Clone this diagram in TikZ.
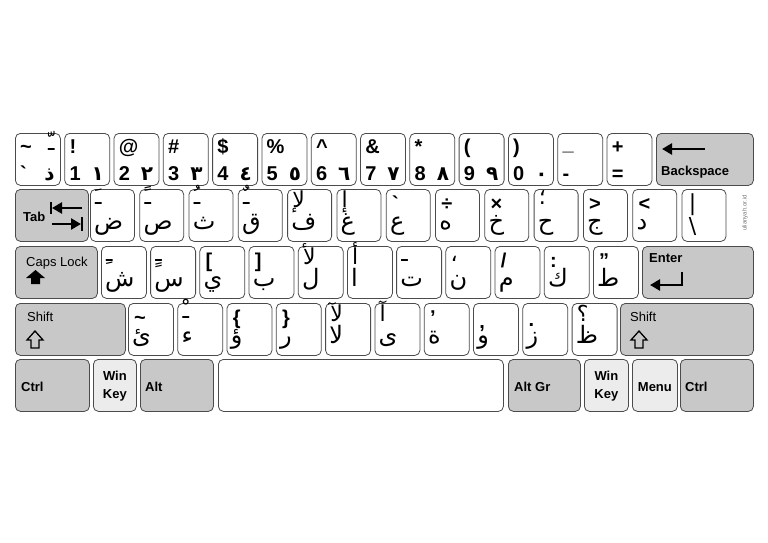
\documentclass[tikz,border=0pt]{standalone}
\usepackage{fontspec}
\setmainfont{Liberation Sans}
\newfontfamily\arabicfont[Script=Arabic]{DejaVu Sans}
\TeXXeTstate=1
\usetikzlibrary{arrows.meta}
\definecolor{keygrey}{RGB}{200,200,200}
\definecolor{keylight}{RGB}{236,236,236}
\definecolor{keyline}{RGB}{75,75,75}

\begin{document}
\begin{tikzpicture}[x=1pt, y=-1pt]
\tikzset{
	key/.style={rectangle, draw=keyline, line width=0.8pt, rounded corners=5pt, fill=white, minimum width=45pt, minimum height=52pt, anchor=north west, inner sep=0pt},
	modkey/.style={key, fill=keygrey},
	lightkey/.style={key, fill=keylight},
	sym/.style={font=\bfseries\fontsize{20}{20}\selectfont, inner sep=0pt},
	up/.style={sym, anchor=base west, xshift=5pt, yshift=-20pt},
	lo/.style={sym, anchor=base west, xshift=5pt, yshift=-47pt},
	shifted/.style={sym, anchor=base west, xshift=6pt, yshift=-21pt},
	ar/.style={font=\arabicfont\fontsize{22}{22}\selectfont, inner sep=0pt},
	num/.style={ar, font=\arabicfont\bfseries\fontsize{20}{20}\selectfont, anchor=base east, xshift=-6pt, yshift=-47pt},
	harf/.style={ar, font=\arabicfont\fontsize{24}{24}\selectfont, anchor=base west, xshift=4pt, yshift=-40pt},
	haraka/.style={ar, anchor=base west, xshift=5pt, yshift=-15pt},
	modtxt/.style={font=\bfseries\fontsize{13}{13}\selectfont, anchor=base west, inner sep=0pt},
	plaintxt/.style={font=\fontsize{13}{13}\selectfont, anchor=base west, inner sep=0pt},
	icon/.style={line width=2.6pt, -{Triangle[length=10pt,width=11pt]}},
}
\useasboundingbox (0,0) rectangle (768,543);

% row 1
\node[key] (kgrave) at (15,133) {};
\node[key] (k1) at (64.3,133) {};
\node[key] (k2) at (113.6,133) {};
\node[key] (k3) at (162.9,133) {};
\node[key] (k4) at (212.2,133) {};
\node[key] (k5) at (261.5,133) {};
\node[key] (k6) at (310.8,133) {};
\node[key] (k7) at (360.1,133) {};
\node[key] (k8) at (409.4,133) {};
\node[key] (k9) at (458.7,133) {};
\node[key] (k0) at (508,133) {};
\node[key] (kminus) at (557.3,133) {};
\node[key] (kequal) at (606.6,133) {};
\node[modkey, minimum width=97pt] (bksp) at (656,133) {};

\node[up] (kgrave-u) at (kgrave.north west) {\textasciitilde};
\node[lo] (kgrave-l) at (kgrave.north west) {\textasciigrave};
\node[ar, anchor=base east] (kgrave-s) at ([shift={(-6,17)}]kgrave.north east) {\beginR ـّ\endR};
\node[num] (kgrave-a) at (kgrave.north east) {\beginR ذ\endR};
\node[up] (k1-u) at (k1.north west) {!};
\node[lo] (k1-l) at (k1.north west) {1};
\node[num] (k1-a) at (k1.north east) {\beginR ١\endR};
\node[up] (k2-u) at (k2.north west) {@};
\node[lo] (k2-l) at (k2.north west) {2};
\node[num] (k2-a) at (k2.north east) {\beginR ٢\endR};
\node[up] (k3-u) at (k3.north west) {\#};
\node[lo] (k3-l) at (k3.north west) {3};
\node[num] (k3-a) at (k3.north east) {\beginR ٣\endR};
\node[up] (k4-u) at (k4.north west) {\$};
\node[lo] (k4-l) at (k4.north west) {4};
\node[num] (k4-a) at (k4.north east) {\beginR ٤\endR};
\node[up] (k5-u) at (k5.north west) {\%};
\node[lo] (k5-l) at (k5.north west) {5};
\node[num] (k5-a) at (k5.north east) {\beginR ٥\endR};
\node[up] (k6-u) at (k6.north west) {\textasciicircum};
\node[lo] (k6-l) at (k6.north west) {6};
\node[num] (k6-a) at (k6.north east) {\beginR ٦\endR};
\node[up] (k7-u) at (k7.north west) {\&};
\node[lo] (k7-l) at (k7.north west) {7};
\node[num] (k7-a) at (k7.north east) {\beginR ٧\endR};
\node[up] (k8-u) at (k8.north west) {*};
\node[lo] (k8-l) at (k8.north west) {8};
\node[num] (k8-a) at (k8.north east) {\beginR ٨\endR};
\node[up] (k9-u) at (k9.north west) {(};
\node[lo] (k9-l) at (k9.north west) {9};
\node[num] (k9-a) at (k9.north east) {\beginR ٩\endR};
\node[up] (k0-u) at (k0.north west) {)};
\node[lo] (k0-l) at (k0.north west) {0};
\node[num] (k0-a) at (k0.north east) {\beginR ٠\endR};
\node[up, yshift=3pt] (kminus-u) at (kminus.north west) {\_};
\node[lo] (kminus-l) at (kminus.north west) {-};
\node[up] (kequal-u) at (kequal.north west) {+};
\node[lo] (kequal-l) at (kequal.north west) {=};
\draw[icon] ([shift={(49,16)}]bksp.north west) -- ([shift={(6,16)}]bksp.north west);
\node[modtxt] (bksp-t) at ([shift={(5,42)}]bksp.north west) {Backspace};

% row 2
\node[modkey, minimum width=73pt] (tab) at (15,189) {};
\node[key, minimum width=44pt] (kq) at (90,189) {};
\node[key, minimum width=44pt] (kw) at (139.3,189) {};
\node[key, minimum width=44pt] (ke) at (188.6,189) {};
\node[key, minimum width=44pt] (kr) at (237.9,189) {};
\node[key, minimum width=44pt] (kt) at (287.2,189) {};
\node[key, minimum width=44pt] (ky) at (336.5,189) {};
\node[key, minimum width=44pt] (ku) at (385.8,189) {};
\node[key, minimum width=44pt] (ki) at (435.1,189) {};
\node[key, minimum width=44pt] (ko) at (484.4,189) {};
\node[key, minimum width=44pt] (kp) at (533.7,189) {};
\node[key, minimum width=44pt] (klbr) at (583,189) {};
\node[key, minimum width=44pt] (krbr) at (632.3,189) {};
\node[key, minimum width=44pt] (kbsl) at (681.6,189) {};

\node[modtxt] (tab-t) at ([shift={(8,32)}]tab.north west) {Tab};
\draw[line width=2.6pt] ([shift={(36,13)}]tab.north west) -- ([shift={(36,25)}]tab.north west);
\draw[icon] ([shift={(67,19)}]tab.north west) -- ([shift={(37,19)}]tab.north west);
\draw[icon] ([shift={(37,35)}]tab.north west) -- ([shift={(66,35)}]tab.north west);
\draw[line width=2.6pt] ([shift={(67,28)}]tab.north west) -- ([shift={(67,42)}]tab.north west);

\node[haraka] (kq-u) at (kq.north west) {\beginR ـَ\endR};
\node[harf] (kq-a) at (kq.north west) {\beginR ض\endR};
\node[haraka] (kw-u) at (kw.north west) {\beginR ـً\endR};
\node[harf] (kw-a) at (kw.north west) {\beginR ص\endR};
\node[haraka] (ke-u) at (ke.north west) {\beginR ـُ\endR};
\node[harf] (ke-a) at (ke.north west) {\beginR ث\endR};
\node[haraka] (kr-u) at (kr.north west) {\beginR ـٌ\endR};
\node[harf] (kr-a) at (kr.north west) {\beginR ق\endR};
\node[haraka, yshift=-3pt] (kt-u) at (kt.north west) {\beginR لإ\endR};
\node[harf] (kt-a) at (kt.north west) {\beginR ف\endR};
\node[haraka, yshift=-3pt] (ky-u) at (ky.north west) {\beginR إ\endR};
\node[harf] (ky-a) at (ky.north west) {\beginR غ\endR};
\node[shifted] (ku-u) at (ku.north west) {\textasciigrave};
\node[harf] (ku-a) at (ku.north west) {\beginR ع\endR};
\node[shifted] (ki-u) at (ki.north west) {÷};
\node[harf] (ki-a) at (ki.north west) {\beginR ه\endR};
\node[shifted] (ko-u) at (ko.north west) {×};
\node[harf] (ko-a) at (ko.north west) {\beginR خ\endR};
\node[haraka] (kp-u) at (kp.north west) {\beginR ؛\endR};
\node[harf] (kp-a) at (kp.north west) {\beginR ح\endR};
\node[shifted] (klbr-u) at (klbr.north west) {>};
\node[harf] (klbr-a) at (klbr.north west) {\beginR ج\endR};
\node[shifted] (krbr-u) at (krbr.north west) {<};
\node[harf] (krbr-a) at (krbr.north west) {\beginR د\endR};
\node[ar, anchor=base west] (kbsl-u) at ([shift={(7,21)}]kbsl.north west) {|};
\node[ar, anchor=base west] (kbsl-a) at ([shift={(7,44)}]kbsl.north west) {\textbackslash};
\node[font=\fontsize{6}{6}\selectfont, text=black!55, rotate=90, inner sep=0pt] (site) at (745,213) {ulianyah.or.id};

% row 3
\node[modkey, minimum width=82pt] (caps) at (15,246) {};
\node[key] (ka) at (101,246) {};
\node[key] (ks) at (150.2,246) {};
\node[key] (kd) at (199.4,246) {};
\node[key] (kf) at (248.6,246) {};
\node[key] (kg) at (297.8,246) {};
\node[key] (kh) at (347,246) {};
\node[key] (kj) at (396.2,246) {};
\node[key] (kk) at (445.4,246) {};
\node[key] (kl) at (494.6,246) {};
\node[key] (ksemi) at (543.8,246) {};
\node[key] (kquote) at (593,246) {};
\node[modkey, minimum width=111pt] (enter) at (642,246) {};

\node[plaintxt] (caps-t) at ([shift={(11,20)}]caps.north west) {Caps Lock};
\fill ([shift={(20.5,24)}]caps.north west) -- ([shift={(30,32)}]caps.north west) -- ([shift={(25,32)}]caps.north west) -- ([shift={(25,38)}]caps.north west) -- ([shift={(16,38)}]caps.north west) -- ([shift={(16,32)}]caps.north west) -- ([shift={(11,32)}]caps.north west) -- cycle;
\node[modtxt] (enter-t) at ([shift={(7,16)}]enter.north west) {Enter};
\draw[line width=2.6pt] ([shift={(40,26)}]enter.north west) -- ([shift={(40,39)}]enter.north west);
\draw[icon] ([shift={(41.3,39)}]enter.north west) -- ([shift={(8,39)}]enter.north west);

\node[haraka] (ka-u) at (ka.north west) {\beginR ـِ\endR};
\node[harf] (ka-a) at (ka.north west) {\beginR ش\endR};
\node[haraka] (ks-u) at (ks.north west) {\beginR ـٍ\endR};
\node[harf] (ks-a) at (ks.north west) {\beginR س\endR};
\node[shifted] (kd-u) at (kd.north west) {[};
\node[harf] (kd-a) at (kd.north west) {\beginR ي\endR};
\node[shifted] (kf-u) at (kf.north west) {]};
\node[harf] (kf-a) at (kf.north west) {\beginR ب\endR};
\node[haraka, yshift=-3pt] (kg-u) at (kg.north west) {\beginR لأ\endR};
\node[harf] (kg-a) at (kg.north west) {\beginR ل\endR};
\node[haraka, yshift=-3pt] (kh-u) at (kh.north west) {\beginR أ\endR};
\node[harf] (kh-a) at (kh.north west) {\beginR ا\endR};
\node[haraka] (kj-u) at (kj.north west) {\beginR ـ\endR};
\node[harf] (kj-a) at (kj.north west) {\beginR ت\endR};
\node[haraka] (kk-u) at (kk.north west) {\beginR ،\endR};
\node[harf] (kk-a) at (kk.north west) {\beginR ن\endR};
\node[shifted] (kl-u) at (kl.north west) {/};
\node[harf] (kl-a) at (kl.north west) {\beginR م\endR};
\node[shifted] (ksemi-u) at (ksemi.north west) {:};
\node[harf] (ksemi-a) at (ksemi.north west) {\beginR ك\endR};
\node[shifted] (kquote-u) at (kquote.north west) {"};
\node[harf] (kquote-a) at (kquote.north west) {\beginR ط\endR};

% row 4
\node[modkey, minimum width=110pt] (lshift) at (15,303) {};
\node[key] (kz) at (128,303) {};
\node[key] (kx) at (177.3,303) {};
\node[key] (kc) at (226.6,303) {};
\node[key] (kv) at (275.9,303) {};
\node[key] (kb) at (325.2,303) {};
\node[key] (kn) at (374.5,303) {};
\node[key] (km) at (423.8,303) {};
\node[key] (kcomma) at (473.1,303) {};
\node[key] (kdot) at (522.4,303) {};
\node[key] (kslash) at (571.7,303) {};
\node[modkey, minimum width=133pt] (rshift) at (620,303) {};

\node[plaintxt] (lshift-t) at ([shift={(12,18)}]lshift.north west) {Shift};
\draw[line width=1.3pt, line join=miter] ([shift={(20,28)}]lshift.north west) -- ([shift={(28,37)}]lshift.north west) -- ([shift={(24,37)}]lshift.north west) -- ([shift={(24,45)}]lshift.north west) -- ([shift={(16,45)}]lshift.north west) -- ([shift={(16,37)}]lshift.north west) -- ([shift={(12,37)}]lshift.north west) -- cycle;
\node[plaintxt] (rshift-t) at ([shift={(10,18)}]rshift.north west) {Shift};
\draw[line width=1.3pt, line join=miter] ([shift={(19,28)}]rshift.north west) -- ([shift={(27,37)}]rshift.north west) -- ([shift={(23,37)}]rshift.north west) -- ([shift={(23,45)}]rshift.north west) -- ([shift={(15,45)}]rshift.north west) -- ([shift={(15,37)}]rshift.north west) -- ([shift={(11,37)}]rshift.north west) -- cycle;

\node[shifted] (kz-u) at (kz.north west) {\textasciitilde};
\node[harf] (kz-a) at (kz.north west) {\beginR ئ\endR};
\node[haraka] (kx-u) at (kx.north west) {\beginR ـْ\endR};
\node[harf] (kx-a) at (kx.north west) {\beginR ء\endR};
\node[shifted] (kc-u) at (kc.north west) {\{};
\node[harf] (kc-a) at (kc.north west) {\beginR ؤ\endR};
\node[shifted] (kv-u) at (kv.north west) {\}};
\node[harf] (kv-a) at (kv.north west) {\beginR ر\endR};
\node[haraka, yshift=-3pt] (kb-u) at (kb.north west) {\beginR لآ\endR};
\node[harf] (kb-a) at (kb.north west) {\beginR لا\endR};
\node[haraka, yshift=-3pt] (kn-u) at (kn.north west) {\beginR آ\endR};
\node[harf] (kn-a) at (kn.north west) {\beginR ى\endR};
\node[shifted] (km-u) at (km.north west) {'};
\node[harf] (km-a) at (km.north west) {\beginR ة\endR};
\node[shifted, yshift=-4pt] (kcomma-u) at (kcomma.north west) {,};
\node[harf] (kcomma-a) at (kcomma.north west) {\beginR و\endR};
\node[shifted, yshift=-2pt] (kdot-u) at (kdot.north west) {.};
\node[harf] (kdot-a) at (kdot.north west) {\beginR ز\endR};
\node[haraka, yshift=-3pt] (kslash-u) at (kslash.north west) {\beginR ؟\endR};
\node[harf] (kslash-a) at (kslash.north west) {\beginR ظ\endR};

% row 5
\node[modkey, minimum width=74pt] (lctrl) at (15,359) {};
\node[lightkey, minimum width=43pt] (lwin) at (93,359) {};
\node[modkey, minimum width=73pt] (lalt) at (140,359) {};
\node[key, minimum width=285pt] (space) at (218,359) {};
\node[modkey, minimum width=72pt] (altgr) at (508,359) {};
\node[lightkey, minimum width=44pt] (rwin) at (584,359) {};
\node[lightkey, minimum width=45pt] (menu) at (632,359) {};
\node[modkey, minimum width=73pt] (rctrl) at (680,359) {};

\node[modtxt] (lctrl-t) at ([shift={(6,32)}]lctrl.north west) {Ctrl};
\node[modtxt, anchor=base] (lwin-t) at ([shift={(0,21)}]lwin.north) {Win};
\node[modtxt, anchor=base] (lwin-k) at ([shift={(0,39)}]lwin.north) {Key};
\node[modtxt] (lalt-t) at ([shift={(5,32)}]lalt.north west) {Alt};
\node[modtxt] (altgr-t) at ([shift={(6,32)}]altgr.north west) {Alt Gr};
\node[modtxt, anchor=base] (rwin-t) at ([shift={(0,21)}]rwin.north) {Win};
\node[modtxt, anchor=base] (rwin-k) at ([shift={(0,39)}]rwin.north) {Key};
\node[modtxt, anchor=base] (menu-t) at ([shift={(0,32)}]menu.north) {Menu};
\node[modtxt] (rctrl-t) at ([shift={(5,32)}]rctrl.north west) {Ctrl};
\end{tikzpicture}
\end{document}
